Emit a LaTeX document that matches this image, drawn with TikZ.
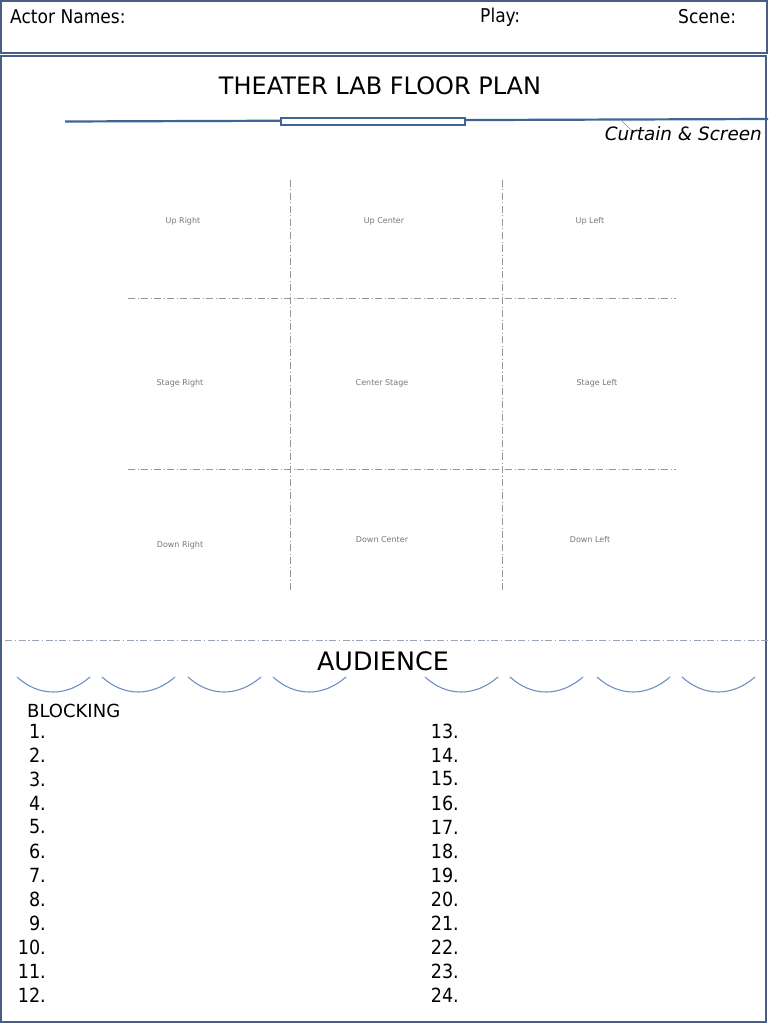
\documentclass[tikz,border=0pt]{standalone}
\usepackage{fontspec}
\setmainfont{DejaVu Sans}
\newfontfamily\condfont{DejaVu Sans Condensed}
\begin{document}
\begin{tikzpicture}[x=1pt,y=-1pt,
  frame/.style={draw=framecol,line width=1.6pt},
  gridline/.style={draw=gridcol,line width=0.7pt,dash pattern=on 7pt off 2.5pt on 1pt off 2.5pt},
  zonelabel/.style={text=labelcol,font=\fontsize{8}{9}\selectfont,inner sep=0pt},
  seat/.style={draw=seatcol,line width=1.1pt},
  numL/.style={anchor=east,font=\condfont\fontsize{19.5}{22}\selectfont,inner sep=0pt},
  hdr/.style={anchor=west,font=\condfont\fontsize{19}{22}\selectfont,inner sep=0pt}]
\definecolor{framecol}{RGB}{70,95,130}
\definecolor{gridcol}{RGB}{150,150,150}
\definecolor{labelcol}{RGB}{120,120,120}
\definecolor{seatcol}{RGB}{110,145,195}
\definecolor{curtcol}{RGB}{65,100,150}
\definecolor{audline}{RGB}{150,165,185}
\useasboundingbox (0,0) rectangle (768,1024);
\fill[white] (0,0) rectangle (768,1024);
% frames
\draw[frame] (1,1) rectangle (767,53);
\draw[frame] (1,56) rectangle (766,1022);
% header
\node[hdr] (actor) at (10,17) {Actor Names:};
\node[hdr] (play) at (480,17) {Play:};
\node[hdr] (scene) at (678,17) {Scene:};
% title
\node[font=\fontsize{24}{28}\selectfont,inner sep=0pt] (title) at (380,86) {THEATER LAB FLOOR PLAN};
% curtain
\draw[curtcol,line width=2.2pt] (65,121.5) -- (768,119);
\draw[curtcol,line width=1.6pt,fill=white] (281,118) rectangle (465,125);
\draw[seatcol,line width=0.6pt] (622,121) -- (632,131);
\node[anchor=east,font=\itshape\fontsize{18.4}{21}\selectfont,inner sep=0pt] (curtain) at (762,134) {Curtain \& Screen};
% grid
\draw[gridline] (290,180) -- (290,590);
\draw[gridline] (502,180) -- (502,590);
\draw[gridline] (128,298) -- (676,298);
\draw[gridline] (128,469) -- (676,469);
\node[zonelabel] (ur) at (183,221) {Up Right};
\node[zonelabel] (uc) at (384,221) {Up Center};
\node[zonelabel] (ul) at (590,221) {Up Left};
\node[zonelabel] (sr) at (180,383) {Stage Right};
\node[zonelabel] (cs) at (382,383) {Center Stage};
\node[zonelabel] (sl) at (597,383) {Stage Left};
\node[zonelabel] (dr) at (180,545) {Down Right};
\node[zonelabel] (dc) at (382,540) {Down Center};
\node[zonelabel] (dl) at (590,540) {Down Left};
% audience
\draw[audline,line width=1pt,dash pattern=on 7pt off 2.5pt on 1.5pt off 2.5pt] (5,640) -- (768,640);
\node[font=\fontsize{25.4}{30}\selectfont,inner sep=0pt] (aud) at (383,661) {AUDIENCE};
\foreach \a in {17,102,188,273,425,510,597,682}{
  \draw[seat] (\a,677) .. controls (\a+22,697) and (\a+50,697) .. (\a+73,677);
}
% blocking
\node[anchor=west,font=\fontsize{18}{21}\selectfont,inner sep=0pt] (blk) at (27,711) {BLOCKING};
\foreach \i in {1,...,12}{
  \node[numL] (n\i) at (46,707+24*\i) {\i.};
}
\foreach \i in {13,...,24}{
  \node[numL] (n\i) at (459,707+24*\i-288) {\i.};
}
\end{tikzpicture}
\end{document}
